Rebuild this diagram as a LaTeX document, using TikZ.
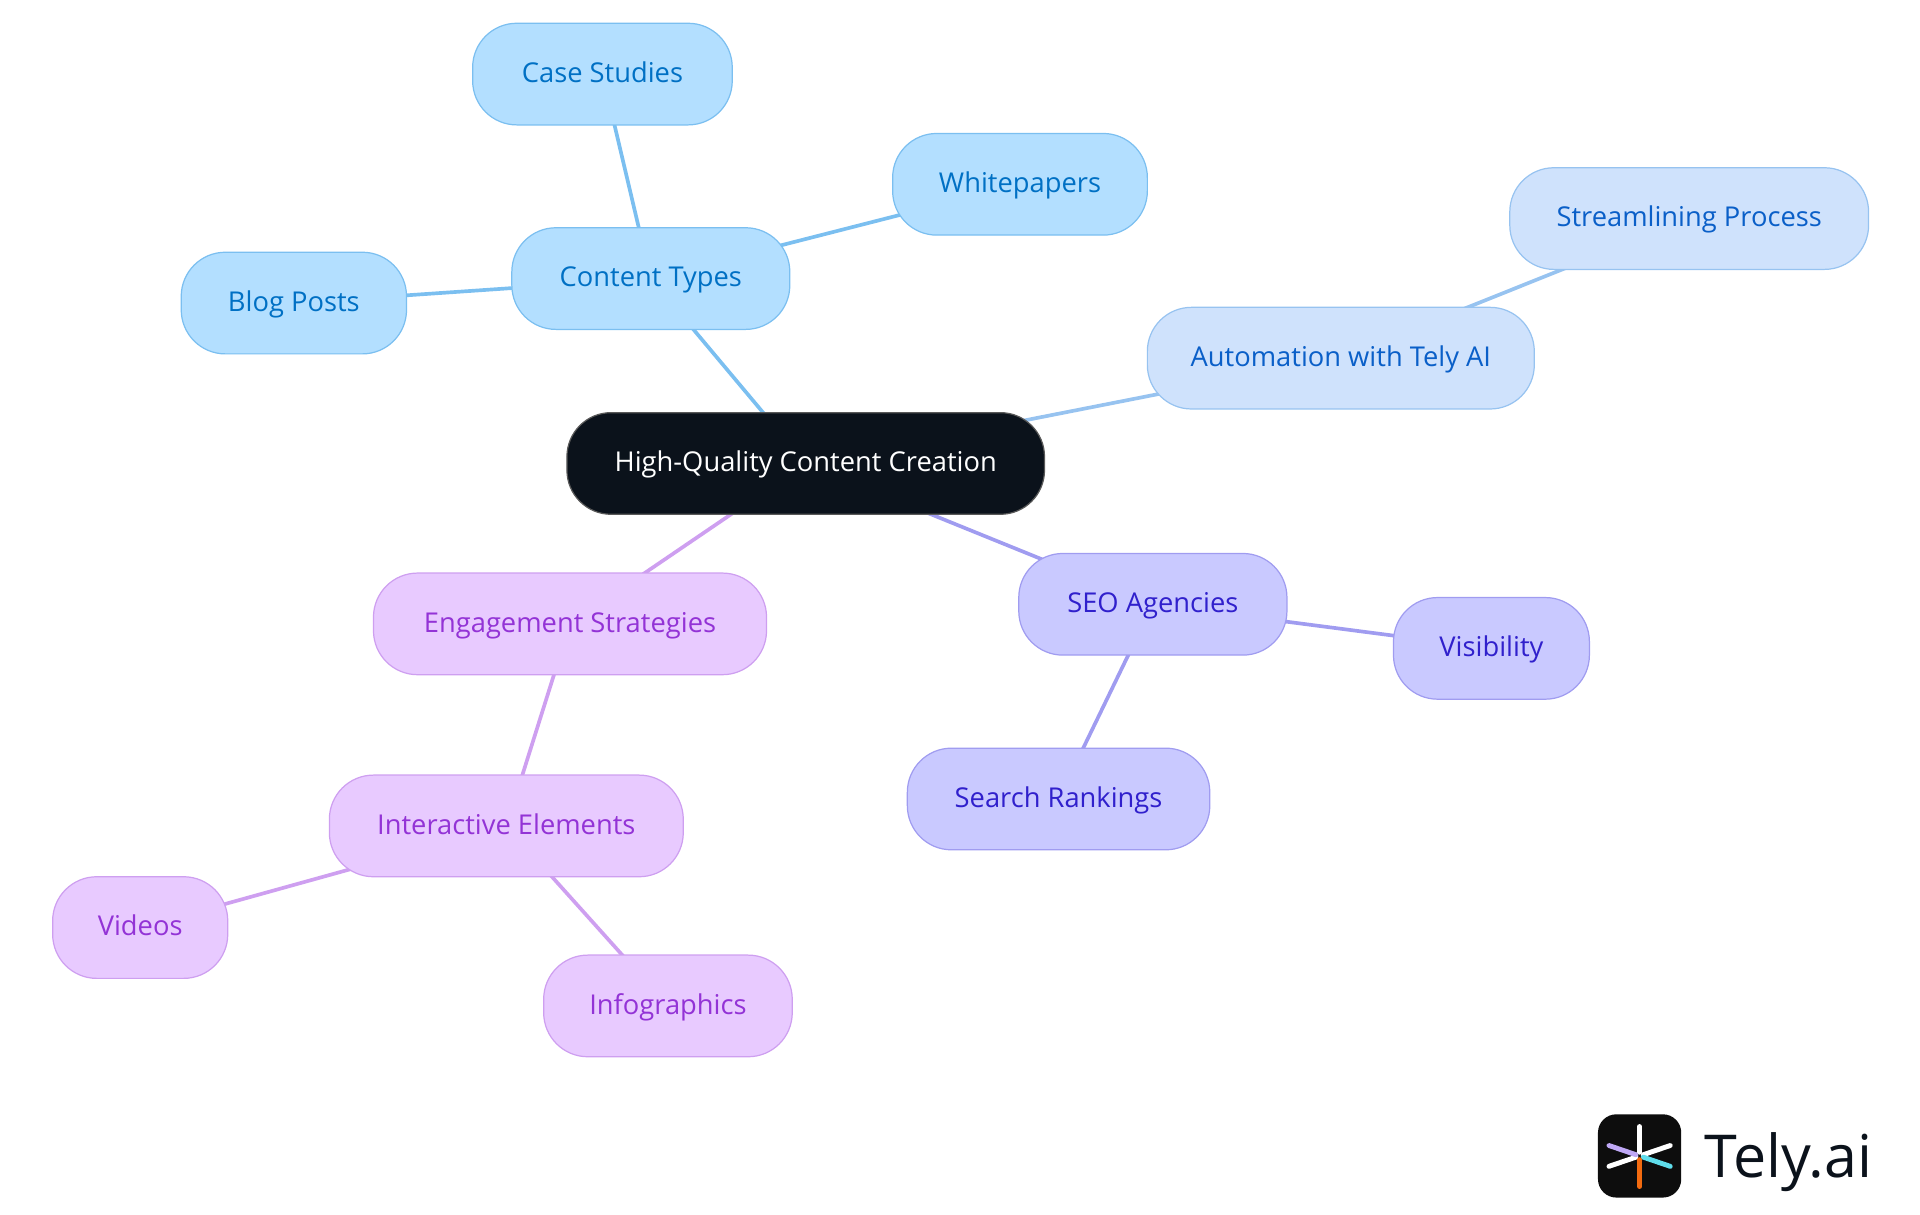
\documentclass[tikz,border=0pt]{standalone}
\usepackage{fontspec}
\setmainfont{Open Sans}
\usetikzlibrary{backgrounds}
\definecolor{skyfill}{HTML}{B3DFFF}
\definecolor{skyline}{HTML}{7BBFF0}
\definecolor{skytext}{HTML}{0070C4}
\definecolor{palefill}{HTML}{CFE2FC}
\definecolor{paleline}{HTML}{97C3F0}
\definecolor{paletext}{HTML}{0A5FC8}
\definecolor{indfill}{HTML}{C9C9FF}
\definecolor{indline}{HTML}{A09CF0}
\definecolor{indtext}{HTML}{3020CC}
\definecolor{violfill}{HTML}{E8CAFF}
\definecolor{violline}{HTML}{CE9FF0}
\definecolor{violtext}{HTML}{9333D6}
\definecolor{rootfill}{HTML}{0B121B}
\definecolor{logocyan}{HTML}{5FDDEB}
\definecolor{logoorange}{HTML}{F26A0F}
\definecolor{logoviolet}{HTML}{BFA8F5}
\tikzset{
  mind/.style={draw, line width=1pt, rounded corners=36pt, inner sep=0pt, minimum height=83pt, text height=17pt, text depth=3.6pt, font=\fontsize{22.3}{26}\selectfont},
  sky/.style={mind, fill=skyfill, draw=skyline, text=skytext},
  pale/.style={mind, fill=palefill, draw=paleline, text=paletext},
  ind/.style={mind, fill=indfill, draw=indline, text=indtext},
  viol/.style={mind, fill=violfill, draw=violline, text=violtext},
  link/.style={line width=3pt},
  spoke/.style={line width=4pt, line cap=round}
}
\begin{document}
\begin{tikzpicture}[x=1pt,y=-1pt]
\useasboundingbox (0,0) rectangle (1568,992.2);
\node[mind, fill=rootfill, draw=gray!70!black, text=white, minimum width=390pt] (root) at (658,378.5) {High-Quality Content Creation};

\node[sky, minimum width=227pt] (types) at (531.5,227.5) {Content Types};
\node[sky, minimum width=212pt] (cases) at (492,60.5) {Case Studies};
\node[sky, minimum width=208pt] (papers) at (833,150.5) {Whitepapers};
\node[sky, minimum width=184pt] (blog) at (240,247.5) {Blog Posts};

\node[pale, minimum width=316pt] (auto) at (1095,292.5) {Automation with Tely AI};
\node[pale, minimum width=293pt] (stream) at (1379.5,178.5) {Streamlining Process};

\node[ind, minimum width=219pt] (seo) at (941.5,493.5) {SEO Agencies};
\node[ind, minimum width=160pt] (visib) at (1218,529.5) {Visibility};
\node[ind, minimum width=247pt] (ranks) at (864.5,652.5) {Search Rankings};

\node[viol, minimum width=321pt] (engage) at (465.5,509.5) {Engagement Strategies};
\node[viol, minimum width=289pt] (inter) at (413.5,674.5) {Interactive Elements};
\node[viol, minimum width=143pt] (videos) at (114.5,757.5) {Videos};
\node[viol, minimum width=203pt] (infog) at (545.5,821.5) {Infographics};

\begin{pgfonlayer}{background}
\draw[link, skyline] (root.center) -- (types.center);
\draw[link, skyline] (types.center) -- (cases.center);
\draw[link, skyline] (types.center) -- (papers.center);
\draw[link, skyline] (types.center) -- (blog.center);
\draw[link, paleline] (root.center) -- (auto.center);
\draw[link, paleline] (auto.center) -- (stream.center);
\draw[link, indline] (root.center) -- (seo.center);
\draw[link, indline] (seo.center) -- (visib.center);
\draw[link, indline] (seo.center) -- (ranks.center);
\draw[link, violline] (root.center) -- (engage.center);
\draw[link, violline] (engage.center) -- (inter.center);
\draw[link, violline] (inter.center) -- (videos.center);
\draw[link, violline] (inter.center) -- (infog.center);
\end{pgfonlayer}

\node[fill=black!95!white, rounded corners=15pt, minimum width=68pt, minimum height=68pt, inner sep=0pt] (logo) at (1339,944) {};
\draw[spoke, white] (1339,941) -- (1339,920);
\draw[spoke, white] (1342,943) -- (1364,935.5);
\draw[spoke, white] (1336,945) -- (1314,952.5);
\draw[spoke, logocyan] (1342,945) -- (1364,952.5);
\draw[spoke, logoorange] (1339,947) -- (1339,969);
\draw[spoke, logoviolet] (1336,943) -- (1314,935.5);
\node[text=rootfill, font=\fontsize{48.3}{58}\selectfont, anchor=base west, inner sep=0pt] (brand) at (1392,962) {Tely.ai};
\end{tikzpicture}
\end{document}
